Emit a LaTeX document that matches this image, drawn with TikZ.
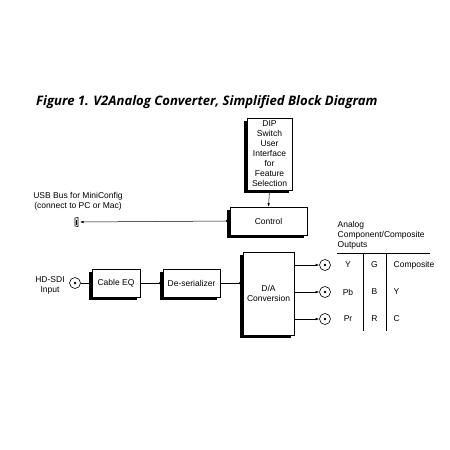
\documentclass[tikz,border=0pt]{standalone}
\usepackage{fontspec}
\setmainfont{Liberation Sans}
\newfontfamily\titlefont{Open Sans}
\usetikzlibrary{arrows.meta,shadows}
\begin{document}
\begin{tikzpicture}[x=1pt,y=-1pt,
  blk/.style={draw=black,line width=0.5pt,fill=white,inner sep=0pt,align=center,font=\fontsize{8.5}{10}\selectfont,
     drop shadow={shadow xshift=-3pt,shadow yshift=-3pt,fill=black,opacity=1}},
  lbl/.style={font=\fontsize{8.5}{10}\selectfont,inner sep=0pt,align=center},
  conn/.style={draw=black,line width=0.6pt,circle,minimum size=11pt,inner sep=0pt,fill=white},
  wire/.style={line width=0.5pt},
  arr/.style={wire,-{Latex[length=3.5pt,width=2.5pt]}},
  darr/.style={wire,{Latex[length=3.5pt,width=2.5pt]}-{Latex[length=3.5pt,width=2.5pt]}}]
\useasboundingbox (0,0) rectangle (450,450);
\node[inner sep=0pt,anchor=base west] (title) at (36,105) {\titlefont\bfseries\itshape\fontsize{13.1}{15}\selectfont Figure 1. V2Analog Converter, Simplified Block Diagram};

\node[blk,minimum width=45pt,minimum height=72pt] (dip) at (269.5,154) {DIP\\Switch\\User\\Interface\\for\\Feature\\Selection};
\node[blk,minimum width=77pt,minimum height=28pt] (ctrl) at (268.5,221) {Control};
\node[blk,minimum width=48pt,minimum height=28pt] (ceq) at (116,283) {Cable EQ};
\node[blk,minimum width=57pt,minimum height=28pt] (deser) at (191.5,283) {De-serializer};
\node[blk,minimum width=51pt,minimum height=83pt] (da) at (268.5,293.5) {D/A\\Conversion};

% USB
\node[lbl] (usbtxt) at (78,201.5) {USB Bus for MiniConfig\\(connect to PC or Mac)};
\coordinate (usb) at (77,222);
\draw[line width=0.6pt,fill=white] (75,218) -- (78,217.5) -- (78,226.5) -- (75,226) -- cycle;
\draw[line width=0.5pt] (76.5,219.5) -- (76.5,224.5);
\draw[darr] (80,222) -- (ctrl.west);
\draw[arr] (dip.south) -- (ctrl.north);

% input
\node[lbl] (hdtxt) at (50,285) {HD-SDI\\Input};
\node[conn] (hdin) at (75,283) {};
\fill (hdin.center) circle (1.4pt);
\draw[wire] (hdin.east) -- (ceq.west);
\draw[arr] (ceq.east) -- (deser.west);
\draw[arr] (deser.east) -- (da.west |- deser.east);

% outputs
\foreach \n/\y in {1/265,2/292,3/319}{
  \node[conn] (o\n) at (325,\y) {};
  \fill (o\n.center) circle (1.4pt);
  \draw[arr] (da.east |- o\n.west) -- (o\n.west);
}
\node[lbl,align=left,anchor=north west] (outtxt) at (337.5,221) {Analog\\Component/Composite\\Outputs};
\coordinate (hl) at (337,253);
\coordinate (hr) at (430,253);
\draw[wire] (hl) -- (hr);
\coordinate (v1t) at (363,253); \coordinate (v1b) at (363,331);
\coordinate (v2t) at (386,253); \coordinate (v2b) at (386,331);
\draw[wire] (v1t) -- (v1b);
\draw[wire] (v2t) -- (v2b);
\node[lbl] (c11) at (348,265) {Y};
\node[lbl] (c21) at (348,292) {Pb};
\node[lbl] (c31) at (348,319) {Pr};
\node[lbl] (c12) at (374.5,265) {G};
\node[lbl] (c22) at (374.5,292) {B};
\node[lbl] (c32) at (374.5,319) {R};
\node[lbl,anchor=west] (c13) at (393.5,265) {Composite};
\node[lbl,anchor=west] (c23) at (393.5,292) {Y};
\node[lbl,anchor=west] (c33) at (393.5,319) {C};
\end{tikzpicture}
\end{document}
